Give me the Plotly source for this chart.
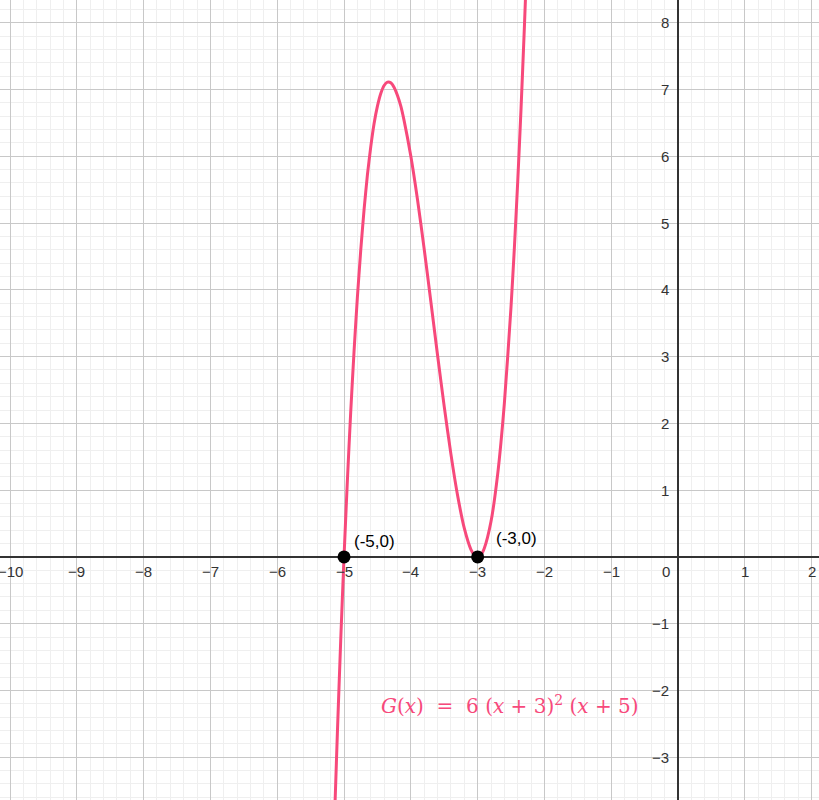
import plotly.graph_objects as go

# Curve points: G(x) = 6 (x+3)^2 (x+5)
curve_x = [-5.14, -5.1, -5.05, -5.0, -4.95, -4.9, -4.85, -4.8, -4.75, -4.7, -4.65, -4.6,
           -4.55, -4.5, -4.45, -4.4, -4.35, -4.3, -4.25, -4.2, -4.15, -4.1, -4.0, -3.9,
           -3.8, -3.7, -3.6, -3.5, -3.4, -3.3, -3.2, -3.1, -3.05, -3.0, -2.95, -2.9,
           -2.8, -2.7, -2.6, -2.5, -2.45, -2.4, -2.35, -2.3, -2.27]
curve_y = [-3.85, -2.65, -1.26, 0.0, 1.14, 2.17, 3.08, 3.89, 4.59, 5.20, 5.72, 6.14,
           6.49, 6.75, 6.94, 7.06, 7.11, 7.10, 7.03, 6.91, 6.75, 6.53, 6.00, 5.35,
           4.61, 3.82, 3.02, 2.25, 1.54, 0.92, 0.43, 0.11, 0.03, 0.0, 0.03, 0.13,
           0.53, 1.24, 2.30, 3.75, 4.63, 5.62, 6.72, 7.94, 8.73]

# Marked points
point_x = [-5, -3]
point_y = [0, 0]
point_labels = ["(-5,0)", "(-3,0)"]

# Tick labels
x_ticks = list(range(-10, 3))
y_ticks = list(range(-3, 9))

formula_text = ("<i>G</i>(<i>x</i>)&nbsp;&nbsp;=&nbsp;&nbsp;6&nbsp;(<i>x</i>&nbsp;+&nbsp;3)"
                "<sup>2</sup>&nbsp;(<i>x</i>&nbsp;+&nbsp;5)")

x_range = [-10.15, 2.11]
y_range = [-3.64, 8.34]

curve_color = "#f7497b"

fig = go.Figure()

fig.add_trace(go.Scatter(
    x=curve_x, y=curve_y, mode="lines",
    line=dict(color=curve_color, width=3, shape="spline", smoothing=0.6),
    hoverinfo="skip", showlegend=False,
))

fig.add_trace(go.Scatter(
    x=point_x, y=point_y, mode="markers",
    marker=dict(color="black", size=13, line=dict(width=0)),
    showlegend=False,
))

tick_font = dict(family="Liberation Sans, Arial, sans-serif", size=15, color="#333333")
annotations = []
for t in x_ticks:
    label = "0" if t == 0 else ("\u2212" + str(abs(t)) if t < 0 else str(t))
    annotations.append(dict(
        x=t, y=0, xref="x", yref="y", text=label, showarrow=False,
        xanchor="center", yanchor="middle", yshift=-15,
        xshift=-12 if t == 0 else 0, font=tick_font,
    ))
for t in y_ticks:
    if t == 0:
        continue
    label = "\u2212" + str(abs(t)) if t < 0 else str(t)
    annotations.append(dict(
        x=0, y=t, xref="x", yref="y", text=label, showarrow=False,
        xanchor="right", yanchor="middle", xshift=-7, font=tick_font,
    ))

label_offsets = [(8, 15), (16, 18)]
for px, py, lab, (dx, dy) in zip(point_x, point_y, point_labels, label_offsets):
    annotations.append(dict(
        x=px, y=py, xref="x", yref="y", text=lab, showarrow=False,
        xanchor="left", yanchor="middle", xshift=dx, yshift=dy,
        font=dict(family="Liberation Sans, Arial, sans-serif", size=17, color="black"),
    ))

annotations.append(dict(
    x=-2.51, y=-2.22, xref="x", yref="y", text=formula_text, showarrow=False,
    xanchor="center", yanchor="middle",
    font=dict(family="DejaVu Serif, Liberation Serif, serif", size=20, color=curve_color),
))

axis_common = dict(
    showgrid=True, gridcolor="#c8c8c8", gridwidth=1,
    dtick=1, tick0=0,
    minor=dict(dtick=0.2, showgrid=True, gridcolor="#efefef", gridwidth=1),
    zeroline=True, zerolinecolor="#333333", zerolinewidth=1.6,
    showticklabels=False, ticks="", showline=False, fixedrange=True,
)

fig.update_layout(
    width=819, height=800,
    margin=dict(l=0, r=0, t=0, b=0),
    paper_bgcolor="white", plot_bgcolor="white",
    xaxis=dict(range=x_range, **axis_common),
    yaxis=dict(range=y_range, **axis_common),
    annotations=annotations,
    showlegend=False,
)

fig.write_html(
    "out.html",
    config={"displayModeBar": False},
    post_script="document.body.style.margin='0';document.body.style.overflow='hidden';",
)
